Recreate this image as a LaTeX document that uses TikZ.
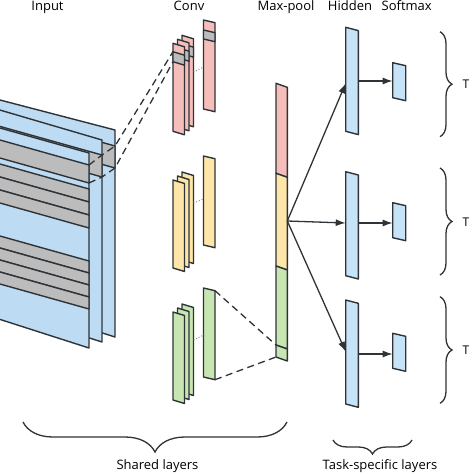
\documentclass[tikz,border=0pt]{standalone}
\usepackage{fontspec}
\setmainfont{Open Sans}
\usepackage{xcolor}
\usetikzlibrary{arrows.meta,decorations.pathreplacing}
\definecolor{sheetblue}{HTML}{BDDCF4}
\definecolor{cellblue}{HTML}{C6E3F8}
\definecolor{rowgray}{HTML}{BCBCBC}
\definecolor{mapred}{HTML}{F6BEBA}
\definecolor{mapyellow}{HTML}{FEE6A8}
\definecolor{mapgreen}{HTML}{C8E6B2}
\definecolor{edge}{HTML}{2E3338}

\begin{document}
\begin{tikzpicture}[x=1pt, y=-1pt,
    bar/.style={draw=edge, line width=1.4pt, line join=round},
    conn/.style={draw=edge, line width=1.3pt, dash pattern=on 7pt off 4.5pt},
    link/.style={draw=gray, line width=0.9pt, dotted},
    arr/.style={draw=edge, line width=1.3pt, -{Latex[length=10pt,width=7pt]}},
    lbl/.style={font=\fontsize{13}{15}\selectfont, anchor=base, inner sep=0pt},
    tsk/.style={font=\fontsize{12}{14}\selectfont, anchor=base west, inner sep=0pt},
    brc/.style={draw=edge, line width=1.3pt, decorate, decoration={brace, amplitude=#1}}]
    \useasboundingbox (0,0) rectangle (474,474);
    \clip (0,0) rectangle (474,474);

    % Input sheets (back to front)
    \filldraw[bar, fill=sheetblue] (-20,94.8) -- (115,130) -- (115,337) -- (-20,294) -- cycle;
    \filldraw[bar, fill=rowgray] (-20,108.2) -- (115,146) -- (115,168) -- (-20,130.2) -- cycle;
    \filldraw[bar, fill=sheetblue] (-20,104.2) -- (102,140) -- (102,342) -- (-20,303) -- cycle;
    \filldraw[bar, fill=rowgray] (-20,120.8) -- (102,155) -- (102,177) -- (-20,142.8) -- cycle;
    \filldraw[bar, fill=sheetblue] (-20,122.4) -- (89,153) -- (89,348) -- (-20,313) -- cycle;
    % Word rows on the front sheet
    \foreach \a/\b in {140/158, 164/177, 177/190, 190/203, 236/248, 248/260, 260/272, 272/284} {
        \filldraw[bar, fill=rowgray] (-20,{\a-5.6}) -- (89,{\a+25}) -- (89,{\b+25}) -- (-20,{\b-5.6}) -- cycle;
    }
    \coordinate (fA) at (89,165);  \coordinate (fB) at (89,183);
    \coordinate (mA) at (102,155); \coordinate (mB) at (102,177);
    \coordinate (bA) at (115,146); \coordinate (bB) at (115,168);

    % Conv maps
    \foreach \k in {2,1,0} {
        \filldraw[bar, fill=mapred] ({173+4.5*\k},{43.3-4*\k}) -- ++(11.5,3.5) -- ++(0,88) -- ++(-11.5,-3.5) -- cycle;
        \filldraw[bar, fill=rowgray] ({173+4.5*\k},{51.7-4*\k}) -- ++(11.5,3.5) -- ++(0,10) -- ++(-11.5,-3.5) -- cycle;
    }
    \foreach \c/\t in {mapyellow/180, mapgreen/312} {
        \foreach \k in {2,1,0} {
            \filldraw[bar, fill=\c] ({173+4.5*\k},{\t-4*\k}) -- ++(11.5,3.5) -- ++(0,88) -- ++(-11.5,-3.5) -- cycle;
        }
    }
    \coordinate (cA) at (173,51.7); \coordinate (cB) at (173,61.7);
    \draw[conn] (fA) -- (mA) -- (bA) -- (cA);
    \draw[conn] (fB) -- (mB) -- (bB) -- (cB);

    % Pooled maps
    \foreach \c/\t in {mapred/20, mapyellow/156, mapgreen/288} {
        \filldraw[bar, fill=\c] (203.5,\t) -- ++(11.5,2.7) -- ++(0,89) -- ++(-11.5,-2.7) -- cycle;
    }
    \filldraw[bar, fill=rowgray] (203.5,30) -- ++(11.5,2.7) -- ++(0,9) -- ++(-11.5,-2.7) -- cycle;
    \coordinate (rOut) at (193.5,72);  \coordinate (rIn) at (203.5,67);
    \coordinate (yOut) at (193.5,203); \coordinate (yIn) at (203.5,199);
    \coordinate (gOut) at (193.5,340); \coordinate (gIn) at (203.5,335);
    \draw[link] (rOut) -- (rIn);
    \draw[link] (yOut) -- (yIn);
    \draw[link] (gOut) -- (gIn);

    % Max-pool column
    \foreach \c/\a/\b in {mapred/83.3/173.3, mapyellow/173.3/266, mapgreen/266/345, mapgreen/345/357} {
        \filldraw[bar, fill=\c] (276,\a) -- ++(11.3,4) -- (287.3,{\b+4}) -- (276,\b) -- cycle;
    }
    \coordinate (gTop) at (215,290.7); \coordinate (gBot) at (215,379.7);
    \coordinate (mpTop) at (276,345);  \coordinate (mpBot) at (276,357);
    \draw[conn] (gTop) -- (mpTop);
    \draw[conn] (gBot) -- (mpBot);

    % Hidden and softmax layers
    \foreach \t/\s in {27.3/62.7, 171.7/202.7, 300/333.3} {
        \filldraw[bar, fill=cellblue] (345.7,\t) -- ++(12.6,3.3) -- ++(0,104) -- ++(-12.6,-3.3) -- cycle;
        \filldraw[bar, fill=cellblue] (392.7,\s) -- ++(13,3) -- ++(0,35) -- ++(-13,-3) -- cycle;
    }
    \coordinate (poolOut) at (287.3,221);
    \coordinate (hidA) at (345.7,83.3);  \coordinate (hidB) at (345.7,223);  \coordinate (hidC) at (345.7,351.7);
    \draw[arr] (poolOut) -- (hidA);
    \draw[arr] (poolOut) -- (hidB);
    \draw[arr] (poolOut) -- (hidC);
    \foreach \y in {81, 223, 354} {
        \coordinate (hOut) at (358.3,\y);
        \coordinate (sIn) at (392.7,\y);
        \draw[arr] (hOut) -- (sIn);
    }

    % Task braces
    \draw[brc=12] (440,31.7) -- (440,136.7);
    \draw[brc=12] (440,168) -- (440,275);
    \draw[brc=12] (440,296.7) -- (440,403.3);
    \node[tsk] (tA) at (462.5,88) {T};
    \node[tsk] (tB) at (462.5,226) {T};
    \node[tsk] (tC) at (462.5,354) {T};

    % Bottom braces
    \draw[brc=30] (287,422) -- (23,422);
    \draw[brc=14] (412,440) -- (333,440);
    \node[lbl] (shared) at (157.5,469) {Shared layers};
    \node[lbl] (task) at (380,469) {Task-specific layers};

    % Column titles
    \node[lbl] (input) at (47.5,10.5) {Input};
    \node[lbl] (conv) at (189,10.5) {Conv};
    \node[lbl] (maxpool) at (286,10.5) {Max-pool};
    \node[lbl] (hidden) at (350,10.5) {Hidden};
    \node[lbl] (softmax) at (406.7,10.5) {Softmax};
\end{tikzpicture}
\end{document}
